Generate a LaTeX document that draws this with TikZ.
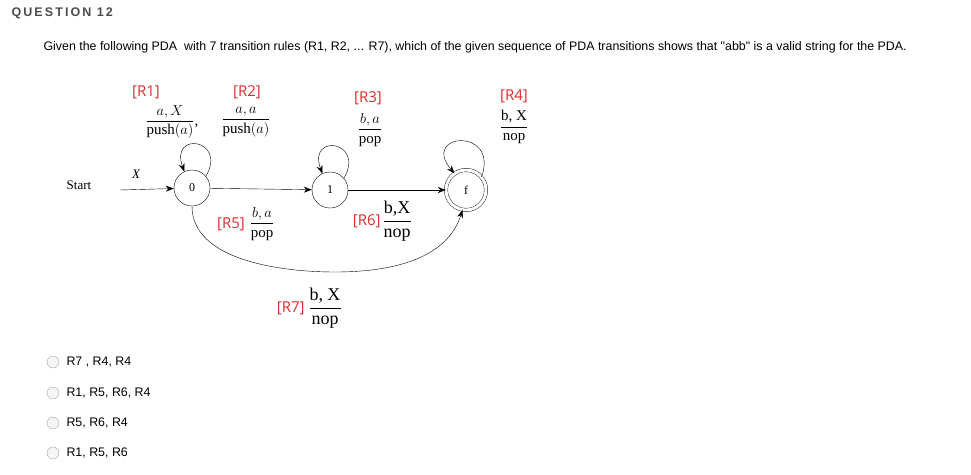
\documentclass[tikz,border=0pt]{standalone}
\usepackage{amsmath}
\usepackage{fontspec}
\setmainfont{Liberation Serif}
\newfontfamily\uisans{Liberation Sans}
\newfontfamily\tagsans{Open Sans}
\usetikzlibrary{positioning,arrows.meta}
\definecolor{tagred}{RGB}{220,45,45}
\tikzset{
  state/.style={draw,circle,minimum size=36pt,inner sep=0pt,font=\fontsize{12}{12}\selectfont},
  rtag/.style={text=tagred,font=\tagsans\fontsize{15}{15}\selectfont},
  lbl/.style={font=\fontsize{15}{15}\selectfont,inner sep=0pt},
  trans/.style={-{Stealth[length=8pt,width=6pt]}},
  radio/.style={draw=gray!70,fill=gray!8,circle,minimum size=12pt,inner sep=0pt},
}
\begin{document}
\begin{tikzpicture}[x=1pt,y=-1pt]
\useasboundingbox (0,0) rectangle (971,474);

\node[anchor=west,font=\uisans\bfseries\fontsize{12.5}{13}\selectfont,text=gray!60!black] (head) at (8,13) {Q\,U\,E\,S\,T\,I\,O\,N\, 1\,2};
\node[anchor=west,font=\uisans\fontsize{12.4}{13}\selectfont] (ques) at (40,47) {Given the following PDA \ with 7 transition rules (R1, R2, ... R7), which of the given sequence of PDA transitions shows that "abb" is a valid string for the PDA.};

% states
\node[state] (s0) at (192,188) {0};
\node[state] (s1) at (330,190) {1};
\node[state,minimum size=40pt,double,double distance=3pt] (sf) at (466,190) {f};
\node[font=\fontsize{13}{13}\selectfont] (start) at (79,185) {Start};
\coordinate (in) at (120,190);

% transitions
\draw[trans] (in) -- (s0) node[pos=0.3,above=8pt,font=\itshape\fontsize{13}{13}\selectfont] () {X};
\draw[trans] (s0) -- (s1);
\draw[trans] (s1) -- (sf);
\draw[trans] (s0.40) to[out=60,in=110,looseness=5] (s0.115);
\draw[trans] (s1.40) to[out=60,in=110,looseness=5] (s1.115);
\draw[trans] (sf.40) to[out=70,in=130,looseness=5] (sf.125);
\draw[trans] (s0.south) .. controls (192,260) and (280,272) .. (335,272) .. controls (410,272) and (450,250) .. (sf.-100);

% labels
\node[rtag] (r1) at (146,92) {[R1]};
\node[lbl] (l1) at (170,122) {$\dfrac{a, X}{\text{push}(a)}$\rlap{,}};
\node[rtag] (r2) at (247,92) {[R2]};
\node[lbl] (l2) at (246,122) {$\dfrac{a, a}{\text{push}(a)}$};
\node[rtag] (r3) at (368,98) {[R3]};
\node[lbl] (l3) at (370,130) {$\dfrac{b, a}{\text{pop}}$};
\node[rtag] (r4) at (514,96) {[R4]};
\node[lbl] (l4) at (514,127) {$\dfrac{\text{b, X}}{\text{nop}}$};
\node[lbl] (l5) at (262,224) {$\dfrac{b, a}{\text{pop}}$};
\node[rtag,left=1pt of l5] (r5) {[R5]};
\node[lbl,font=\fontsize{18}{18}\selectfont] (l6) at (397,221) {$\dfrac{\text{b,X}}{\text{nop}}$};
\node[rtag,left=-2pt of l6] (r6) {[R6]};
\node[lbl,font=\fontsize{18}{18}\selectfont] (l7) at (325,308) {$\dfrac{\text{b, X}}{\text{nop}}$};
\node[rtag,left=0pt of l7] (r7) {[R7]};

% answers
\foreach \y/\txt [count=\i] in {362/{R7 , R4, R4},393/{R1, R5, R6, R4},423/{R5, R6, R4},453/{R1, R5, R6}}{
  \node[radio] (opt\i) at (53,\y) {};
  \node[anchor=west,font=\uisans\fontsize{12.4}{13}\selectfont] (ans\i) at (63,\y) {\txt};
}
\end{tikzpicture}
\end{document}
